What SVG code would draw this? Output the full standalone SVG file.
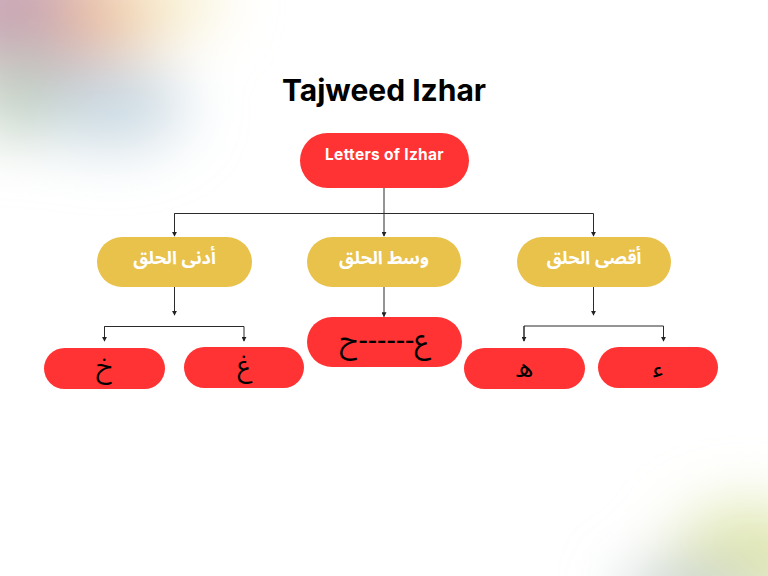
<svg xmlns="http://www.w3.org/2000/svg" width="768" height="576" viewBox="0 0 768 576">
  <defs>
    <filter id="blur" x="-50%" y="-50%" width="200%" height="200%">
      <feGaussianBlur stdDeviation="30"/>
    </filter>
    <marker id="arr" viewBox="0 0 6 6" refX="5" refY="3" markerWidth="5" markerHeight="5" orient="auto" markerUnits="userSpaceOnUse">
      <path d="M0,0 L6,3 L0,6 z" fill="#222"/>
    </marker>
    <style>
      .line { fill: none; stroke: #2b2b2b; stroke-width: 1; }
      .red { fill: #ff3333; }
      .yel { fill: #e9c24c; }
      .title { font-family: Inter, "Liberation Sans", sans-serif; font-weight: 700; font-size: 30px; fill: #000; }
      .root { font-family: Inter, "Liberation Sans", sans-serif; font-weight: 700; font-size: 15.5px; fill: #fff; letter-spacing: 0.3px; }
      .ar { font-family: "Noto Sans Arabic", "DejaVu Sans", sans-serif; font-weight: 700; font-size: 18px; fill: #fff; }
      .let { font-family: "Noto Sans Arabic", "DejaVu Sans", sans-serif; font-size: 26px; fill: #000; }
    </style>
  </defs>

  <rect width="768" height="576" fill="#fff"/>
  <g id="background" filter="url(#blur)">
    <ellipse cx="30" cy="15" rx="95" ry="70" fill="#c9a6b4"/>
    <ellipse cx="120" cy="10" rx="60" ry="45" fill="#efc5a4"/>
    <ellipse cx="175" cy="0" rx="45" ry="35" fill="#f7efcd"/>
    <ellipse cx="110" cy="105" rx="75" ry="42" fill="#c9d9e2"/>
    <ellipse cx="15" cy="95" rx="45" ry="45" fill="#c2d2c4"/>
    <ellipse cx="750" cy="560" rx="80" ry="55" fill="#e0e7b0"/>
    <ellipse cx="690" cy="595" rx="70" ry="32" fill="#c9d2d1"/>
  </g>

  <text class="title" x="384" y="101" text-anchor="middle">Tajweed Izhar</text>

  <g id="connectors">
    <path class="line" d="M384,188 V236" marker-end="url(#arr)"/>
    <path class="line" d="M174.5,236 V213.5 H593.5 V236" marker-end="url(#arr)"/>
    <path class="line" d="M174.5,213.5 V236" marker-end="url(#arr)"/>
    <path class="line" d="M174.5,287 V315" marker-end="url(#arr)"/>
    <path class="line" d="M104.5,341 V326.5 H244 V341" marker-end="url(#arr)"/>
    <path class="line" d="M104.5,326.5 V341" marker-end="url(#arr)"/>
    <path class="line" d="M384,287 V316.5" marker-end="url(#arr)"/>
    <path class="line" d="M593.5,287 V315" marker-end="url(#arr)"/>
    <path class="line" d="M524,341 V326 H663.5 V341" marker-end="url(#arr)"/>
    <path class="line" d="M524,326 V341" marker-end="url(#arr)"/>
  </g>

  <g id="root">
    <rect class="red" x="300" y="133" width="169" height="55" rx="27.5"/>
    <text class="root" x="384.5" y="160" text-anchor="middle">Letters of Izhar</text>
  </g>

  <g id="adna">
    <rect class="yel" x="97" y="237" width="155" height="50" rx="25"/>
    <text class="ar" x="174.5" y="264" text-anchor="middle" direction="rtl">أدنى الحلق</text>
  </g>
  <g id="wasat">
    <rect class="yel" x="307" y="237" width="154" height="50" rx="25"/>
    <text class="ar" x="384" y="264" text-anchor="middle" direction="rtl">وسط الحلق</text>
  </g>
  <g id="aqsa">
    <rect class="yel" x="517" y="237" width="154" height="50" rx="25"/>
    <text class="ar" x="594" y="264" text-anchor="middle" direction="rtl">أقصى الحلق</text>
  </g>

  <g id="kha">
    <rect class="red" x="44" y="348" width="121" height="41" rx="20.5"/>
    <text class="let" x="104.5" y="375" text-anchor="middle">خ</text>
  </g>
  <g id="ghain">
    <rect class="red" x="184" y="347" width="120" height="41" rx="20.5"/>
    <text class="let" x="244" y="374" text-anchor="middle">غ</text>
  </g>
  <g id="ain-ha">
    <rect class="red" x="307" y="317" width="155" height="50" rx="25"/>
    <text class="let" x="384.5" y="350" text-anchor="middle" direction="rtl" style="font-size:29px">ع------ح</text>
  </g>
  <g id="ha">
    <rect class="red" x="464" y="348" width="121" height="41" rx="20.5"/>
    <text class="let" x="524.5" y="377" text-anchor="middle">ه</text>
  </g>
  <g id="hamza">
    <rect class="red" x="598" y="347" width="120" height="41" rx="20.5"/>
    <text class="let" x="658" y="376" text-anchor="middle">ء</text>
  </g>
</svg>
